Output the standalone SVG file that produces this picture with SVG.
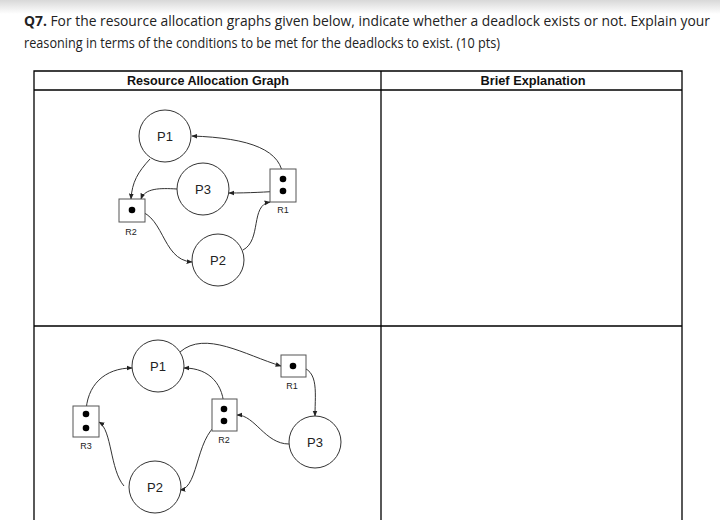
<svg xmlns="http://www.w3.org/2000/svg" width="720" height="520" viewBox="0 0 720 520">
<defs>
<linearGradient id="g" x1="0" y1="0" x2="0" y2="1"><stop offset="0" stop-color="#d8d8d8"/><stop offset="1" stop-color="#ffffff"/></linearGradient>
<marker id="a" viewBox="0 0 10 10" refX="9" refY="5" markerWidth="6" markerHeight="6" orient="auto"><path d="M0,1 L10,5 L0,9 z" fill="#222"/></marker>
</defs>
<style>
.t{font-family:"Liberation Sans",Arial,sans-serif;fill:#222}
.q{font-family:"Open Sans","Liberation Sans",sans-serif;font-size:14px;fill:#222}
.h{font-family:"Liberation Sans",Arial,sans-serif;font-size:12.5px;font-weight:bold;fill:#111}
.c{fill:#fff;stroke:#333;stroke-width:1}
.r{fill:#fff;stroke:#555;stroke-width:1}
.n{font-size:13px;text-anchor:middle}
.l{font-size:9px;text-anchor:middle}
.e{fill:none;stroke:#333;stroke-width:1;marker-end:url(#a)}
.b{stroke:#000;stroke-width:1.3;fill:none}
</style>
<rect width="720" height="520" fill="#fff"/>
<rect width="720" height="14" fill="url(#g)"/>
<text class="q" x="24" y="26" textLength="686" lengthAdjust="spacingAndGlyphs"><tspan font-weight="bold">Q7.</tspan>  For the resource allocation graphs given below, indicate whether a deadlock exists or not. Explain your</text>
<text class="q" x="24" y="48" textLength="476" lengthAdjust="spacingAndGlyphs">reasoning in terms of the conditions to be met for the deadlocks to exist. (10 pts)</text>
<g id="table">
<path class="b" d="M34,520 V71 H682 V520 M34,90 H682 M34,326 H682 M381,71 V520"/>
<text class="h" x="208" y="85" text-anchor="middle" textLength="162" lengthAdjust="spacingAndGlyphs">Resource Allocation Graph</text>
<text class="h" x="533" y="85" text-anchor="middle" textLength="105" lengthAdjust="spacingAndGlyphs">Brief Explanation</text>
</g>
<g id="connectors-top">
<path class="e" d="M150,159 C138,172 132,182 131,199"/>
<path class="e" d="M283,179 C283,150 250,138 192,136"/>
<path class="e" d="M283,191 C265,192 250,193 229,193"/>
<path class="e" d="M177,189 C160,188 145,188 141,199"/>
<path class="e" d="M132,210 C165,210 160,260 192,262"/>
<path class="e" d="M243,250 C262,240 250,205 270,202"/>
</g>
<g id="top-P1"><circle class="c" cx="165" cy="136" r="26"/><text class="t n" x="165" y="141">P1</text></g>
<g id="top-P3"><circle class="c" cx="203" cy="189" r="26"/><text class="t n" x="203" y="194">P3</text></g>
<g id="top-P2"><circle class="c" cx="218" cy="260" r="26"/><text class="t n" x="218" y="265">P2</text></g>
<g id="top-R1"><rect class="r" x="270" y="169" width="26" height="33"/><circle cx="283" cy="179" r="3.3"/><circle cx="283" cy="191" r="3.3"/><text class="t l" x="283" y="213">R1</text></g>
<g id="top-R2"><rect class="r" x="119" y="199" width="26" height="23"/><circle cx="132" cy="210" r="3.3"/><text class="t l" x="131" y="235">R2</text></g>
<g id="connectors-bottom">
<path class="e" d="M180,352 C205,330 245,355 281,366"/>
<path class="e" d="M293,366 C320,366 315,390 315,416"/>
<path class="e" d="M224,409 C224,385 210,368 184,368"/>
<path class="e" d="M86,414 C86,385 105,368 132,368"/>
<path class="e" d="M124,486 C110,470 112,430 99,422"/>
<path class="e" d="M224,421 C195,430 200,488 180,490"/>
<path class="e" d="M289,444 C265,444 255,415 237,415"/>
</g>
<g id="bot-P1"><circle class="c" cx="158" cy="366" r="26"/><text class="t n" x="158" y="371">P1</text></g>
<g id="bot-P3"><circle class="c" cx="315" cy="442" r="26"/><text class="t n" x="315" y="447">P3</text></g>
<g id="bot-P2"><circle class="c" cx="155" cy="487" r="26"/><text class="t n" x="155" y="492">P2</text></g>
<g id="bot-R1"><rect class="r" x="281" y="355" width="25" height="22"/><circle cx="293" cy="366" r="3.3"/><text class="t l" x="292" y="389">R1</text></g>
<g id="bot-R2"><rect class="r" x="212" y="399" width="25" height="32"/><circle cx="224" cy="409" r="3.3"/><circle cx="224" cy="421" r="3.3"/><text class="t l" x="224" y="443">R2</text></g>
<g id="bot-R3"><rect class="r" x="73" y="406" width="26" height="31"/><circle cx="86" cy="414" r="3.3"/><circle cx="86" cy="428" r="3.3"/><text class="t l" x="86" y="449">R3</text></g>
</svg>
